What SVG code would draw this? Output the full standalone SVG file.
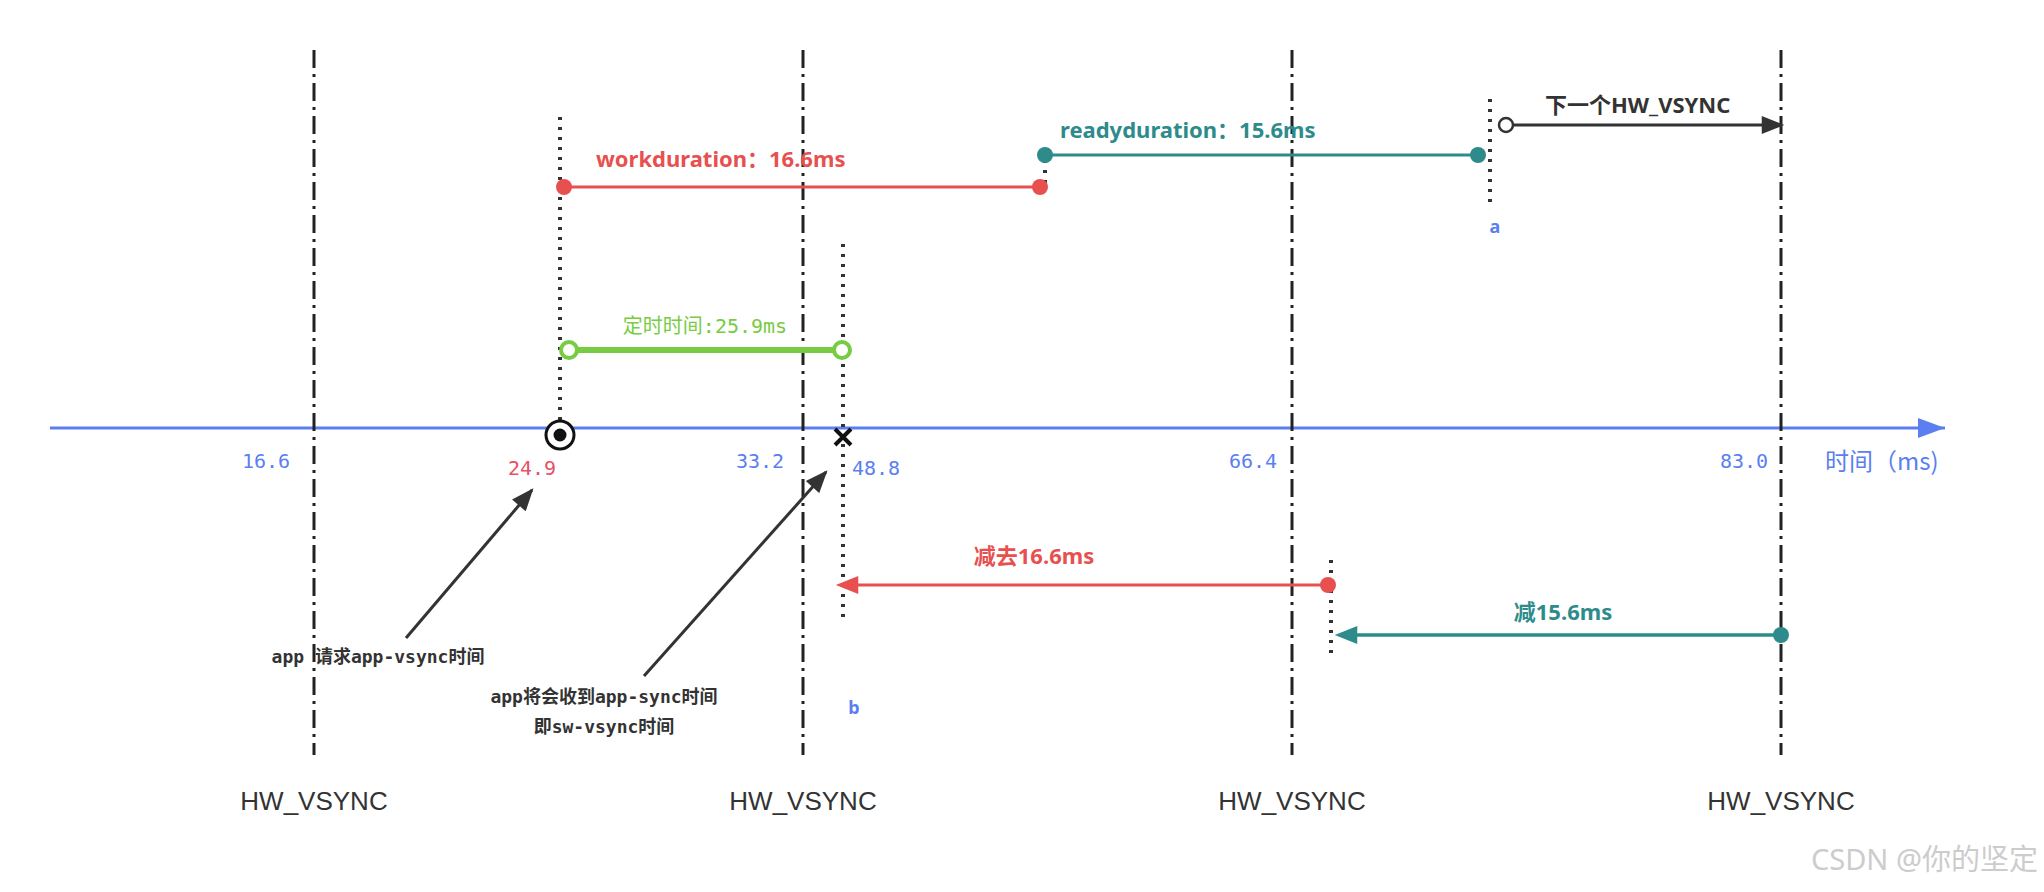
<svg xmlns="http://www.w3.org/2000/svg" width="2044" height="892" viewBox="0 0 2044 892">
<defs>
<style>
.vs{stroke:#222;stroke-width:3;stroke-dasharray:18,6,3,6;fill:none}
.dot{stroke:#333;stroke-width:4;stroke-dasharray:3,7;fill:none}
.hw{font-family:"Liberation Sans",sans-serif;font-size:26px;fill:#333;text-anchor:middle}
.num{font-family:"DejaVu Sans Mono","Noto Sans CJK SC",monospace;font-size:20px;fill:#5b7ff0;text-anchor:middle}
.lbl{font-family:"Noto Sans","Noto Sans CJK SC",sans-serif;font-size:22px;font-weight:bold}
.note{font-family:"DejaVu Sans Mono","Noto Sans CJK SC",monospace;font-size:18px;font-weight:bold;fill:#333;text-anchor:middle}
</style>
<marker id="ab" markerWidth="10" markerHeight="8" refX="9" refY="4" orient="auto" markerUnits="userSpaceOnUse" viewBox="0 0 10 8"><path d="M0,0L10,4L0,8z" fill="#5b7ff0"/></marker>
<marker id="ak" viewBox="0 0 10 8" refX="9" refY="4" markerWidth="24" markerHeight="18" orient="auto" markerUnits="userSpaceOnUse"><path d="M0,0L10,4L0,8z" fill="#333"/></marker>
<marker id="ar" viewBox="0 0 10 8" refX="1" refY="4" markerWidth="24" markerHeight="18" orient="auto-start-reverse" markerUnits="userSpaceOnUse"><path d="M0,0L10,4L0,8z" fill="#e85050"/></marker>
<marker id="at" viewBox="0 0 10 8" refX="1" refY="4" markerWidth="24" markerHeight="18" orient="auto-start-reverse" markerUnits="userSpaceOnUse"><path d="M0,0L10,4L0,8z" fill="#2e8b8b"/></marker>
</defs>
<rect width="2044" height="892" fill="#fff"/>
<g id="connectors">
<line x1="50" y1="428" x2="1945" y2="428" stroke="#5b7ff0" stroke-width="3" marker-end="url(#ab)" style="marker-end:none"/>
<path d="M1945,428 L1918,418 L1918,438z" fill="#5b7ff0"/>
<line class="vs" x1="314" y1="50" x2="314" y2="755"/>
<line class="vs" x1="803" y1="50" x2="803" y2="755"/>
<line class="vs" x1="1292" y1="50" x2="1292" y2="755"/>
<line class="vs" x1="1781" y1="50" x2="1781" y2="755"/>
<line class="dot" x1="560" y1="117" x2="560" y2="420"/>
<line class="dot" x1="843" y1="244" x2="843" y2="620"/>
<line class="dot" x1="1490" y1="99" x2="1490" y2="204"/>
<line class="dot" x1="1045" y1="160" x2="1045" y2="184"/>
<line class="dot" x1="1331" y1="560" x2="1331" y2="654"/>
<line x1="564" y1="187" x2="1040" y2="187" stroke="#e85050" stroke-width="3"/>
<circle cx="564" cy="187" r="8" fill="#e85050"/><circle cx="1040" cy="187" r="8" fill="#e85050"/>
<line x1="1045" y1="155" x2="1478" y2="155" stroke="#2e8b8b" stroke-width="3"/>
<circle cx="1045" cy="155" r="8" fill="#2e8b8b"/><circle cx="1478" cy="155" r="8" fill="#2e8b8b"/>
<line x1="1514" y1="125" x2="1782" y2="125" stroke="#333" stroke-width="3" marker-end="url(#ak)"/>
<circle cx="1506" cy="125" r="7" fill="#fff" stroke="#333" stroke-width="2.5"/>
<line x1="569" y1="350" x2="842" y2="350" stroke="#77cc44" stroke-width="6"/>
<circle cx="569" cy="350" r="8" fill="#fff" stroke="#77cc44" stroke-width="4"/>
<circle cx="842" cy="350" r="8" fill="#fff" stroke="#77cc44" stroke-width="4"/>
<circle cx="560" cy="435" r="14" fill="#fff" stroke="#111" stroke-width="3"/>
<circle cx="560" cy="435" r="6.5" fill="#111"/>
<path d="M835,429 L851,445 M851,429 L835,445" stroke="#111" stroke-width="4"/>
<line x1="1325" y1="585" x2="856" y2="585" stroke="#e85050" stroke-width="3" marker-end="url(#ar)"/>
<circle cx="1328" cy="585" r="8" fill="#e85050"/>
<line x1="1781" y1="635" x2="1355" y2="635" stroke="#2e8b8b" stroke-width="3.5" marker-end="url(#at)"/>
<circle cx="1781" cy="635" r="8" fill="#2e8b8b"/>
<line x1="406" y1="638" x2="532" y2="490" stroke="#333" stroke-width="3" marker-end="url(#ak)"/>
<line x1="644" y1="676" x2="826" y2="472" stroke="#333" stroke-width="3" marker-end="url(#ak)"/>
</g>
<g id="labels">
<text class="hw" x="314" y="810">HW_VSYNC</text>
<text class="hw" x="803" y="810">HW_VSYNC</text>
<text class="hw" x="1292" y="810">HW_VSYNC</text>
<text class="hw" x="1781" y="810">HW_VSYNC</text>
<text class="num" x="266" y="468">16.6</text>
<text class="num" x="532" y="475" fill="#e85066" style="fill:#e85066">24.9</text>
<text class="num" x="760" y="468">33.2</text>
<text class="num" x="876" y="475">48.8</text>
<text class="num" x="1253" y="468">66.4</text>
<text class="num" x="1744" y="468">83.0</text>
<text x="1825" y="470" font-family="'Noto Sans CJK SC',sans-serif" font-size="24" fill="#5b7ff0">时间（ms)</text>
<text class="lbl" x="596" y="167" fill="#e85050">workduration：16.6ms</text>
<text class="lbl" x="1060" y="138" fill="#2e8b8b">readyduration：15.6ms</text>
<text class="lbl" x="1545" y="113" fill="#333">下一个HW_VSYNC</text>
<text x="1495" y="233" font-family="'Noto Sans',sans-serif" font-size="18" font-weight="bold" fill="#5b7ff0" text-anchor="middle">a</text>
<text x="854" y="714" font-family="'Noto Sans',sans-serif" font-size="18" font-weight="bold" fill="#5b7ff0" text-anchor="middle">b</text>
<text x="705" y="333" font-family="'DejaVu Sans Mono','Noto Sans CJK SC',monospace" font-size="20" fill="#77cc44" text-anchor="middle">定时时间:25.9ms</text>
<text class="lbl" x="1034" y="564" fill="#e85050" text-anchor="middle">减去16.6ms</text>
<text class="lbl" x="1563" y="620" fill="#2e8b8b" text-anchor="middle">减15.6ms</text>
<text class="note" x="378" y="663">app 请求app-vsync时间</text>
<text class="note" x="604" y="703">app将会收到app-sync时间</text>
<text class="note" x="604" y="733">即sw-vsync时间</text>
<text x="2038" y="870" font-family="'Noto Sans','Noto Sans CJK SC',sans-serif" font-size="29" fill="#ccc" text-anchor="end">CSDN @你的坚定</text>
</g>
</svg>
